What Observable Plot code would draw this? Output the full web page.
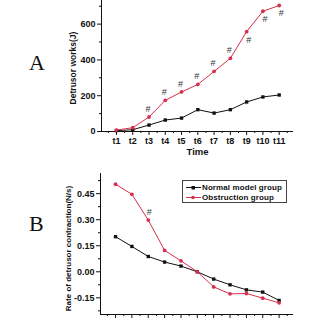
<!DOCTYPE html>
<html>
<head>
<meta charset="utf-8">
<script src="https://cdn.jsdelivr.net/npm/d3@7"></script>
<script src="https://cdn.jsdelivr.net/npm/@observablehq/plot@0.6"></script>
<style>
  body { margin: 0; background: #fff; }
  #wrap { position: relative; width: 320px; height: 320px; overflow: hidden; background: #fff;
          font-family: "Liberation Sans", Arial, sans-serif; }
  .panel { position: absolute; left: 0; }
  .letter { position: absolute; font-family: "Liberation Serif", "Times New Roman", serif;
            font-size: 22px; line-height: 1; color: #111; }
  .legend { position: absolute; left: 182px; top: 180px; width: 105px; height: 23px;
            border: 1px solid #444; box-sizing: border-box; background: #fff; }
  .legend .row { position: absolute; left: 2px; display: flex; align-items: center; height: 10px;
                 font-size: 8px; font-weight: bold; letter-spacing: 0.1px; color: #111; white-space: nowrap; }
</style>
</head>
<body>
<div id="wrap"></div>
<script>
// Time points t1..t11
const timePoints = [1, 2, 3, 4, 5, 6, 7, 8, 9, 10, 11];

// Panel A: detrusor works (J)
const worksNormal      = [5, 10, 36, 64, 75, 122, 103, 122, 165, 193, 204];
const worksObstruction = [8, 21, 81, 174, 221, 263, 336, 409, 558, 672, 704];
const worksSigAbove = [3, 4, 5, 6, 7, 8];   // "#" drawn above the point
const worksSigBelow = [9, 10, 11];          // "#" drawn below the point
const worksTicks = [0, 200, 400, 600];
const worksMinor = [100, 300, 500, 700];

// Panel B: rate of detrusor contraction (N/s)
const rateNormal      = [0.202, 0.146, 0.088, 0.056, 0.033, 0.0, -0.042, -0.075, -0.104, -0.117, -0.165];
const rateObstruction = [0.504, 0.446, 0.298, 0.123, 0.063, 0.0, -0.087, -0.127, -0.125, -0.152, -0.179];
const rateSig = [3];
const rateTicks = [-0.15, 0, 0.15, 0.30, 0.45];
const rateMinor = [-0.225, -0.075, 0.075, 0.225, 0.375, 0.525];

const groups = ["Normal model group", "Obstruction group"];
const colors = ["#111111", "#d8304c"];

const xHalf = d3.range(0.5, 12, 1);
const xDomain = [0.08, 11.88];
const font = "Liberation Sans, Arial, sans-serif";

const rows = (vals) => timePoints.map((t, i) => ({t, v: vals[i]}));
const A0 = rows(worksNormal), A1 = rows(worksObstruction);
const B0 = rows(rateNormal), B1 = rows(rateObstruction);
const pick = (data, ts) => data.filter(d => ts.includes(d.t));

const wrap = document.getElementById("wrap");

// ---- Panel A ----
const plotA = Plot.plot({
  width: 320, height: 160,
  marginLeft: 101, marginRight: 27, marginTop: 0, marginBottom: 29,
  style: {fontFamily: font, background: "transparent", color: "#111"},
  x: {domain: xDomain},
  y: {domain: [0, 732]},
  marks: [
    Plot.ruleX([xDomain[0]], {stroke: "#111", strokeWidth: 1}),
    Plot.ruleY([0], {stroke: "#111", strokeWidth: 1}),
    Plot.axisY(worksTicks, {tickSize: 4, tickPadding: 2, fontSize: 9, fontWeight: "bold", label: null}),
    Plot.axisY(worksMinor, {tickSize: 2, tickFormat: () => "", label: null}),
    Plot.axisX(timePoints, {tickSize: 4, tickPadding: 2, fontSize: 9, fontWeight: "bold",
                            tickFormat: d => "t" + d, label: null}),
    Plot.axisX(xHalf, {tickSize: 2, tickFormat: () => "", label: null}),
    Plot.text(["Time"], {frameAnchor: "bottom", dy: 23, fontSize: 9.5, fontWeight: "bold"}),
    Plot.text(["Detrusor works(J)"], {frameAnchor: "left", textAnchor: "middle", dx: -28, dy: 2,
                                      rotate: -90, fontSize: 8.5, fontWeight: "bold"}),
    Plot.line(A0, {x: "t", y: "v", stroke: colors[0], strokeWidth: 1}),
    Plot.line(A1, {x: "t", y: "v", stroke: colors[1], strokeWidth: 1}),
    Plot.dot(A0, {x: "t", y: "v", symbol: "square", r: 1.9, fill: colors[0], stroke: null}),
    Plot.dot(A1, {x: "t", y: "v", r: 1.9, fill: colors[1], stroke: null}),
    Plot.text(pick(A1, worksSigAbove), {x: "t", y: "v", text: () => "#", dy: -8, dx: -1,
                                        fontSize: 9, fill: "#333"}),
    Plot.text(pick(A1, worksSigBelow), {x: "t", y: "v", text: () => "#", dy: 8, dx: 2,
                                        fontSize: 9, fill: "#333"})
  ]
});
plotA.classList.add("panel");
plotA.style.top = "0px";
wrap.appendChild(plotA);

// ---- Panel B ----
const plotB = Plot.plot({
  width: 320, height: 160,
  marginLeft: 100, marginRight: 27, marginTop: 13, marginBottom: 6,
  style: {fontFamily: font, background: "transparent", color: "#111", overflow: "visible"},
  x: {domain: xDomain},
  y: {domain: [-0.246, 0.566]},
  marks: [
    Plot.ruleX([xDomain[0]], {stroke: "#111", strokeWidth: 1}),
    Plot.ruleY([-0.246], {stroke: "#111", strokeWidth: 1}),
    Plot.axisY(rateTicks, {tickSize: 4, tickPadding: 2, fontSize: 9, fontWeight: "bold",
                           tickFormat: d => d.toFixed(2), label: null}),
    Plot.axisY(rateMinor, {tickSize: 2, tickFormat: () => "", label: null}),
    Plot.axisX(timePoints, {tickSize: 4, tickFormat: () => "", label: null}),
    Plot.axisX(xHalf, {tickSize: 2, tickFormat: () => "", label: null}),
    Plot.text(["Rate of detrusor contraction(N/s)"], {frameAnchor: "left", textAnchor: "middle",
                                                      dx: -32, dy: 4.5, rotate: -90,
                                                      fontSize: 8, fontWeight: "bold"}),
    Plot.line(B0, {x: "t", y: "v", stroke: colors[0], strokeWidth: 1}),
    Plot.line(B1, {x: "t", y: "v", stroke: colors[1], strokeWidth: 1}),
    Plot.dot(B0, {x: "t", y: "v", symbol: "square", r: 1.9, fill: colors[0], stroke: null}),
    Plot.dot(B1, {x: "t", y: "v", r: 1.9, fill: colors[1], stroke: null}),
    Plot.text(pick(B1, rateSig), {x: "t", y: "v", text: () => "#", dy: -8, dx: 1,
                                  fontSize: 9, fill: "#333"})
  ]
});
plotB.classList.add("panel");
plotB.style.top = "160px";
wrap.appendChild(plotB);

// Panel letters
for (const [txt, top] of [["A", 52], ["B", 213]]) {
  const el = document.createElement("div");
  el.className = "letter";
  el.textContent = txt;
  el.style.left = "29px";
  el.style.top = top + "px";
  wrap.appendChild(el);
}

// Legend for panel B
const legend = document.createElement("div");
legend.className = "legend";
groups.forEach((g, i) => {
  const row = document.createElement("div");
  row.className = "row";
  row.style.top = (1 + i * 10.5) + "px";
  const mark = i === 0
    ? `<rect x="6.5" y="3" width="3.5" height="3.5" fill="${colors[i]}"/>`
    : `<circle cx="8" cy="4.5" r="1.8" fill="${colors[i]}"/>`;
  row.innerHTML = `<svg width="16" height="9" style="margin-right:1px"><line x1="1" x2="16" y1="4.5" y2="4.5" stroke="${colors[i]}" stroke-width="1"/>${mark}</svg><span>${g}</span>`;
  legend.appendChild(row);
});
wrap.appendChild(legend);
</script>
</body>
</html>
